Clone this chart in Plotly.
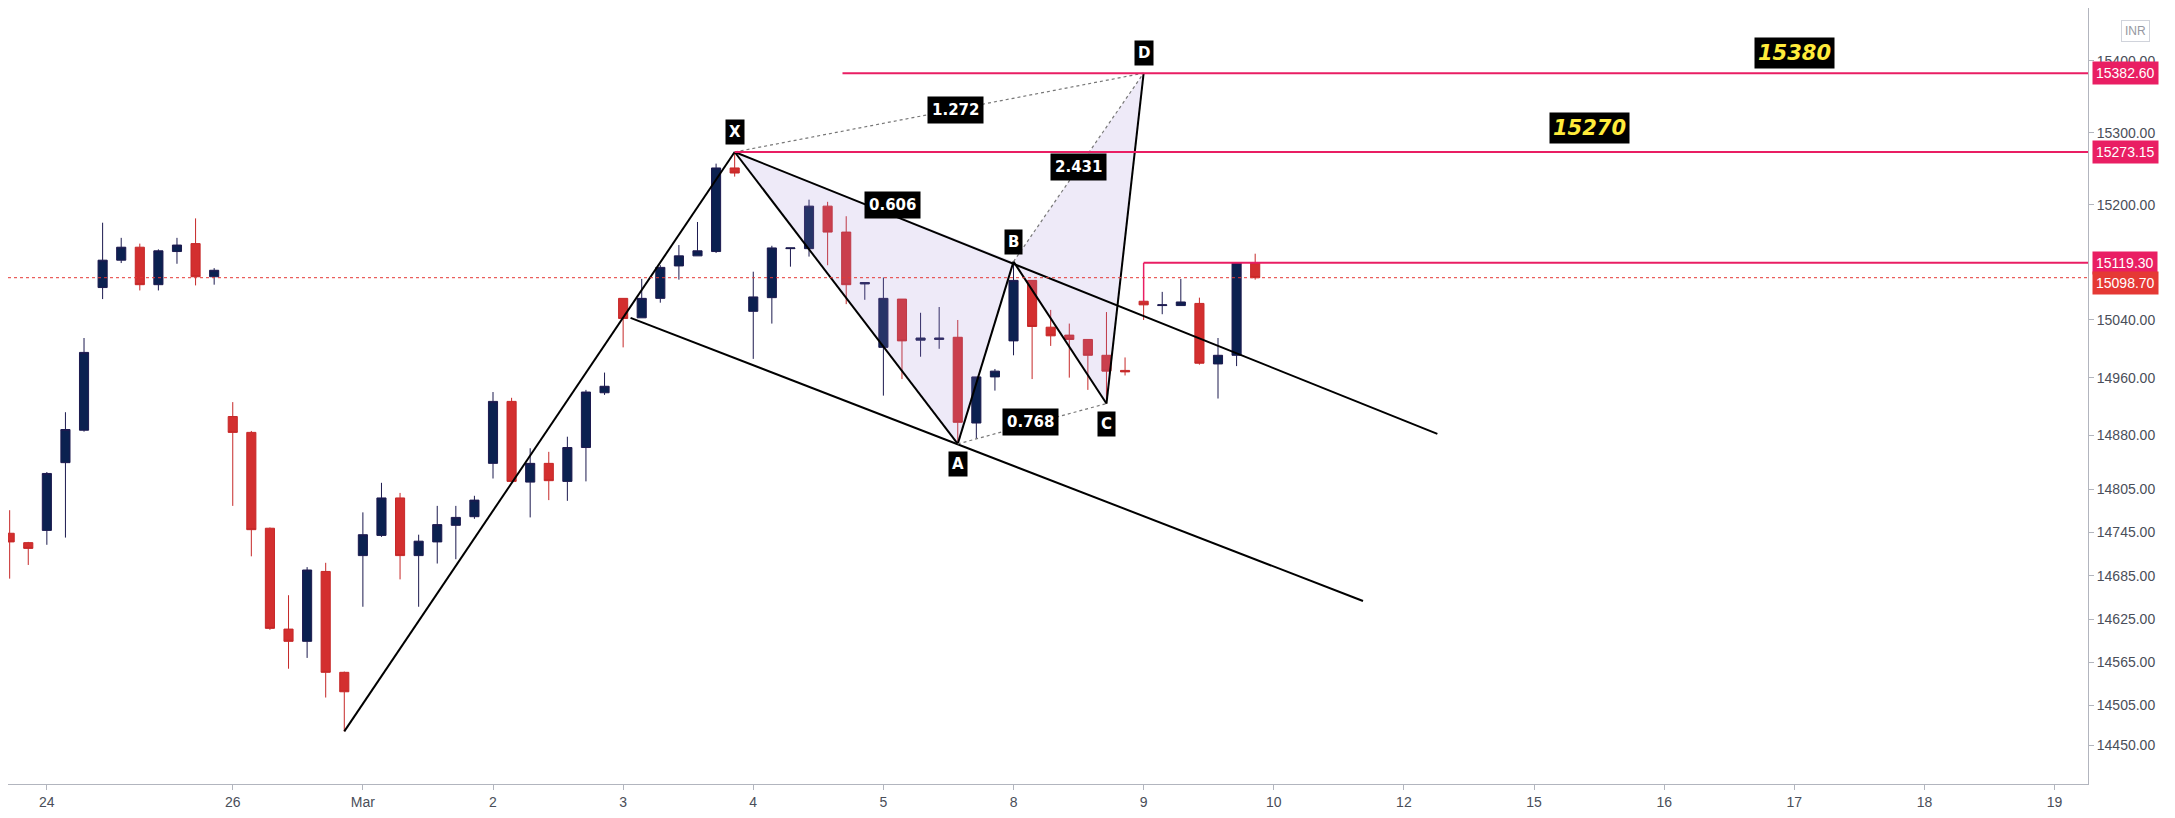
import plotly.graph_objects as go

# hourly candles, Feb 24 .. Mar 9 (index = candle slot)
opens = [14744, 14731, 14748, 14842, 14887, 15085, 15123, 15141, 15089, 15135, 15146, 15100,
         14906, 14884, 14751, 14611, 14594, 14691, 14551,
         14713, 14741, 14793, 14713, 14732, 14755, 14767,
         14841, 14927, 14815, 14841, 14816, 14863, 14939,
         15070, 15043, 15070, 15115, 15129, 15135, 15251,
         15052, 15071, 15139, 15139, 15198, 15162, 15090,
         15002, 15069, 15012, 15013, 15016, 14897, 14961,
         15011, 15095, 15030, 15019, 15013, 14991, 14970,
         15066, 15060, 15060, 15063, 14979, 14991, 15119]
highs = [14776, 14732, 14829, 14912, 15015, 15175, 15154, 15146, 15138, 15154, 15181, 15112,
         14926, 14886, 14752, 14658, 14697, 14703, 14552,
         14773, 14814, 14800, 14742, 14782, 14782, 14796,
         14940, 14932, 14862, 14857, 14878, 14943, 14967,
         15070, 15097, 15116, 15144, 15176, 15257, 15273,
         15107, 15143, 15140, 15207, 15204, 15184, 15092,
         15099, 15069, 15050, 15058, 15040, 14961, 14972,
         15121, 15095, 15054, 15035, 15013, 15051, 14988,
         15067, 15079, 15097, 15071, 15015, 15119, 15132]
lows = [14681, 14700, 14728, 14738, 14885, 15069, 15119, 15081, 15081, 15118, 15088, 15089,
        14782, 14712, 14610, 14556, 14571, 14516, 14469,
        14642, 14739, 14680, 14642, 14702, 14708, 14764,
        14820, 14816, 14766, 14790, 14789, 14816, 14936,
        15002, 15043, 15064, 15096, 15129, 15133, 15239,
        14986, 15035, 15114, 15128, 15116, 15062, 15068,
        14935, 14958, 14989, 15000, 14868, 14876, 14942,
        14991, 14958, 15004, 14960, 14943, 14924, 14963,
        15040, 15048, 15060, 14978, 14931, 14976, 15096]
closes = [14732, 14723, 14827, 14888, 14995, 15123, 15141, 15089, 15136, 15144, 15100, 15109,
          14884, 14749, 14612, 14594, 14693, 14551, 14524,
          14742, 14793, 14713, 14733, 14756, 14766, 14790,
          14927, 14816, 14841, 14817, 14863, 14940, 14948,
          15042, 15070, 15113, 15129, 15136, 15251, 15244,
          15072, 15140, 15140, 15198, 15162, 15089, 15092,
          15070, 15011, 15015, 15015, 14898, 14961, 14969,
          15095, 15031, 15018, 15013, 14991, 14969, 14968,
          15061, 15061, 15065, 14980, 14991, 15119, 15098.7]

tick_pos = [2, 12, 19, 26, 33, 40, 47, 54, 61, 68, 75, 82, 89, 96, 103, 110]
tick_txt = ["24", "26", "Mar", "2", "3", "4", "5", "8", "9", "10", "12", "15", "16", "17", "18", "19"]
price_ticks = [14450, 14505, 14565, 14625, 14685, 14745, 14805, 14880, 14960, 15040, 15200, 15300, 15400]

# harmonic pattern points (slot, price)
pat_names = ["X", "A", "B", "C", "D"]
pat_x = [39, 51, 54, 59, 61]
pat_y = [15273.15, 14868, 15121, 14924, 15382.6]
ratio_txt = ["1.272", "0.606", "2.431", "0.768"]
ratio_x = [50.9, 47.5, 57.5, 54.9]
ratio_y = [15332, 15200, 15252, 14899]
start_x, start_y = 18, 14469
upper_end = (76.8, 14882)
lower_line = [(33.4, 15043), (72.8, 14650)]
levels = [15382.60, 15273.15, 15119.30]
level_start = [44.8, 39, 61]
last_price = 15098.70

PINK = "#e91e63"
fig = go.Figure()
fig.add_trace(go.Candlestick(
    x=list(range(len(opens))), open=opens, high=highs, low=lows, close=closes,
    increasing=dict(fillcolor="#0b2150", line=dict(color="#1c1a4f", width=1)),
    decreasing=dict(fillcolor="#d32f2f", line=dict(color="#c62828", width=1)),
    whiskerwidth=0, showlegend=False, hoverinfo="skip"))

shapes = []
X, A, B, C, D = zip(pat_x, pat_y)
fill = "rgba(160,140,215,0.18)"
for tri in [(X, A, B), (B, C, D)]:
    path = "M {} {} L {} {} L {} {} Z".format(*[v for p in tri for v in p])
    shapes.append(dict(type="path", path=path, fillcolor=fill, line=dict(width=0), layer="above"))


def seg(p, q, dash="solid", color="black", width=2):
    shapes.append(dict(type="line", x0=p[0], y0=p[1], x1=q[0], y1=q[1],
                       line=dict(color=color, width=width, dash=dash), layer="above"))


seg((start_x, start_y), X)
for p, q in [(X, A), (A, B), (B, C), (C, D)]:
    seg(p, q)
seg(X, upper_end)
seg(*lower_line)
for p, q in [(X, D), (A, C), (B, D)]:
    seg(p, q, dash="dot", color="#777777", width=1.2)

for lv, xs in zip(levels, level_start):
    seg((xs, lv), (112, lv), color=PINK, width=2)
seg((61, 15119.3), (61, 15066), color=PINK, width=1.5)
shapes.append(dict(type="line", xref="paper", x0=0, x1=1, y0=last_price, y1=last_price,
                   line=dict(color="#e53935", width=1, dash="dot")))

ann = []
for n, px_, py_ in zip(pat_names, pat_x, pat_y):
    up = n in ("X", "B", "D")
    ann.append(dict(x=px_, y=py_, text="<b>%s</b>" % n, showarrow=False, yshift=20 if up else -20,
                    bgcolor="black", font=dict(color="white", size=15, family="DejaVu Sans"), borderpad=3))
for t, rx, ry in zip(ratio_txt, ratio_x, ratio_y):
    ann.append(dict(x=rx, y=ry, text="<b>%s</b>" % t, showarrow=False, bgcolor="black",
                    font=dict(color="white", size=15, family="DejaVu Sans"), borderpad=4))
for t, tx, ty in [("15380", 96, 15410), ("15270", 85, 15306)]:
    ann.append(dict(x=tx, y=ty, text="<b><i>%s</i></b>" % t, showarrow=False, bgcolor="black",
                    font=dict(color="#ffeb3b", size=21, family="DejaVu Sans"), borderpad=3))
for lv, col in [(15382.60, PINK), (15273.15, PINK), (15119.30, PINK), (last_price, "#e53935")]:
    ann.append(dict(xref="paper", x=1.002, y=lv, xanchor="left", text="%.2f" % lv, showarrow=False,
                    bgcolor=col, font=dict(color="white", size=14, family="Liberation Sans"), borderpad=3,
                    yshift=-5 if lv == last_price else 0))
ann.append(dict(xref="paper", yref="paper", x=1.023, y=0.985, xanchor="center", yanchor="top", text="INR",
                showarrow=False, bordercolor="#d0d3db", borderwidth=1, borderpad=3,
                font=dict(color="#9598a1", size=12, family="Liberation Sans")))

# the page adds an 8px body margin, so the figure is 8px smaller and ranges are matched to it
fig.update_layout(
    width=2167, height=810, margin=dict(l=0, r=87, t=0, b=34),
    plot_bgcolor="white", paper_bgcolor="white",
    shapes=shapes, annotations=ann, showlegend=False,
    xaxis=dict(range=[-0.09, 111.8], tickvals=tick_pos, ticktext=tick_txt, showgrid=False,
               rangeslider=dict(visible=False), zeroline=False, ticks="outside", ticklen=5,
               tickcolor="#b2b5be", showline=True, linecolor="#b2b5be",
               tickfont=dict(color="#4a4e59", size=14, family="Liberation Sans")),
    yaxis=dict(range=[14396, 15473], side="right", tickvals=price_ticks, tickformat=".2f", showgrid=False,
               zeroline=False, ticks="outside", ticklen=5, tickcolor="#b2b5be", showline=True,
               linecolor="#b2b5be", tickfont=dict(color="#4a4e59", size=14, family="Liberation Sans")),
)

fig.write_html("out.html")
